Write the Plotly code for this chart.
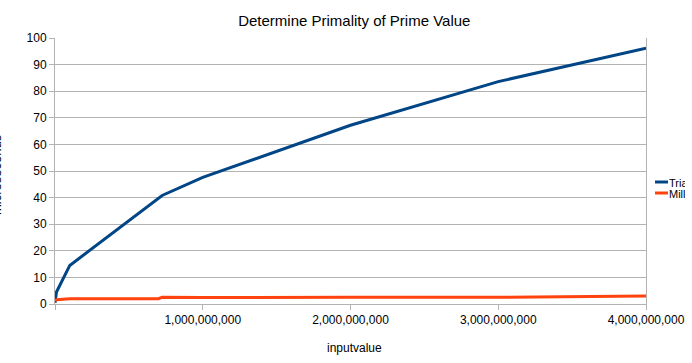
import plotly.graph_objects as go

# Data
input_values = [0, 1e7, 1e8, 7e8, 7.25e8, 1e9, 2e9, 3e9, 4e9]
trial_division = [0.5, 4.5, 14.5, 39.7, 40.8, 47.6, 67.2, 83.6, 96.2]
miller_rabin = [1.2, 1.6, 2.0, 2.0, 2.5, 2.4, 2.5, 2.5, 3.0]
series_names = ["Trial Division", "Miller-Rabin"]
series_colors = ["#004586", "#ff420e"]
x_tick_vals = [0, 1e9, 2e9, 3e9, 4e9]
x_tick_text = ["", "1,000,000,000", "2,000,000,000", "3,000,000,000", "4,000,000,000"]

FONT = "Liberation Sans, Arial, sans-serif"
W, H = 692, 363
L, R, T, B = 55, 46, 38, 59
pw, ph = W - L - R, H - T - B

fig = go.Figure()
for name, ys, col in zip(series_names, [trial_division, miller_rabin], series_colors):
    fig.add_trace(go.Scatter(x=input_values, y=ys, mode="lines", name=name,
                             line=dict(color=col, width=3), showlegend=False))

grid = "#b3b3b3"
fig.update_layout(
    width=W, height=H,
    margin=dict(l=L, r=R, t=T, b=B, autoexpand=False),
    paper_bgcolor="white", plot_bgcolor="white",
    font=dict(family=FONT, size=12, color="black"),
    title=dict(text="Determine Primality of Prime Value", font=dict(size=15, color="black"),
               xref="container", x=0.512, xanchor="center",
               yref="container", y=1 - 21 / H, yanchor="middle"),
    xaxis=dict(range=[0, 4e9], tickvals=x_tick_vals, ticktext=x_tick_text, automargin=False,
               showgrid=False, zeroline=False, showline=True, linecolor=grid, linewidth=1,
               ticks="outside", ticklen=5, tickcolor=grid, tickfont=dict(size=12)),
    yaxis=dict(range=[0, 100], dtick=10, showgrid=True, gridcolor=grid, gridwidth=1, automargin=False,
               zeroline=False, showline=True, mirror=True, linecolor=grid, linewidth=1,
               ticks="outside", ticklen=5, tickcolor=grid, tickfont=dict(size=12)),
)

# Axis titles
fig.add_annotation(text="inputvalue", xref="paper", yref="paper",
                   x=(354 - L) / pw, y=-(348 - (T + ph)) / ph, xanchor="center", yanchor="middle",
                   showarrow=False, font=dict(size=12, color="black"))
fig.add_annotation(text="microseconds", xref="paper", yref="paper", textangle=-90,
                   x=(-4 - L) / pw, y=1 - (175 - T) / ph, xanchor="center", yanchor="middle",
                   showarrow=False, font=dict(size=13, color="black"))

# Manual legend (truncated at the right like the reference)
legend_y = [182, 193]
for name, col, yy in zip(series_names, series_colors, legend_y):
    yp = 1 - (yy - T) / ph
    fig.add_shape(type="line", xref="paper", yref="paper",
                  x0=(655 - L) / pw, x1=(668 - L) / pw, y0=yp, y1=yp,
                  line=dict(color=col, width=3))
    fig.add_annotation(text=name, xref="paper", yref="paper", x=(667 - L) / pw, y=yp,
                       xanchor="left", yanchor="middle", showarrow=False, width=16, height=11,
                       align="left", font=dict(size=11, color="black"))

fig.write_html("out.html", config={"displayModeBar": False},
               post_script="document.body.style.margin='0';")
